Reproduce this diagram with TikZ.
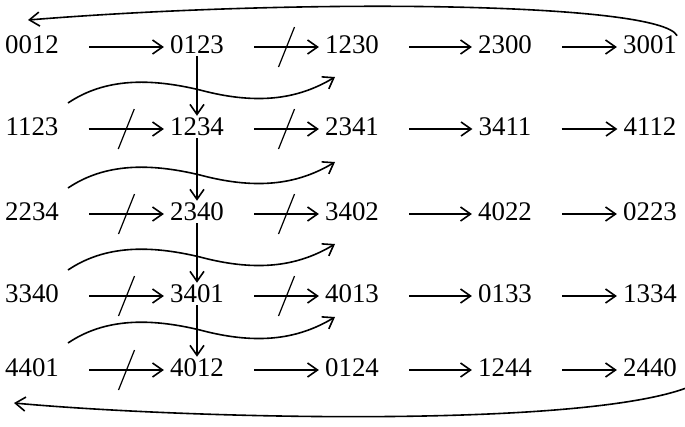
\documentclass[tikz,border=0pt]{standalone}
\usepackage{fontspec}
\setmainfont{Liberation Serif}
\usetikzlibrary{arrows.meta}
\begin{document}
\begin{tikzpicture}[x=1bp,y=-1bp,
  lab/.style={font=\fontsize{27}{27}\selectfont, inner sep=0pt},
  arr/.style={line width=1.6bp, -{Straight Barb[length=10bp,width=14bp]}},
  sl/.style={line width=1.2bp}]
\useasboundingbox (0,0) rectangle (685,426);
\foreach \r/\y/\a/\b/\c/\d/\e in {1/45/0012/0123/1230/2300/3001,2/127/1123/1234/2341/3411/4112,3/212/2234/2340/3402/4022/0223,4/294/3340/3401/4013/0133/1334,5/368/4401/4012/0124/1244/2440}{
  \node[lab] (n\r1) at (32,\y) {\a};
  \node[lab] (n\r2) at (197,\y) {\b};
  \node[lab] (n\r3) at (352,\y) {\c};
  \node[lab] (n\r4) at (505,\y) {\d};
  \node[lab] (n\r5) at (650,\y) {\e};
  \foreach \i/\j in {1/2,2/3,3/4,4/5}{
    \draw[arr] ([xshift=30bp,yshift=-2bp]n\r\i.east) coordinate (s\r\i) -- ([xshift=-6bp,yshift=-2bp]n\r\j.west) coordinate (t\r\i);
  }
}
% slashes
\foreach \r/\i in {1/2,2/1,2/2,3/1,3/2,4/1,4/2,5/1}{
  \path (s\r\i) -- (t\r\i) coordinate[pos=0.5] (m\r\i);
  \draw[sl] ([xshift=-8bp,yshift=-20bp]m\r\i) -- ([xshift=8bp,yshift=20bp]m\r\i);
}
% vertical arrows
\foreach \r/\s in {1/2,2/3,3/4,4/5}{
  \draw[arr] ([yshift=-2bp]n\r2.south) -- ([yshift=2bp]n\s2.north);
}
% wavy arrows
\foreach \y in {0,85,167,240}{
  \draw[arr] (68,103+\y) .. controls (105,78+\y) and (150,78+\y) .. (200,90+\y)
     .. controls (260,106+\y) and (300,98+\y) .. (335,77+\y);
}
% top and bottom arcs
\coordinate (tl) at (28,20);
\coordinate (bl) at (14,403);
\draw[arr] (n15.north east) .. controls (660,2) and (300,-2) .. (tl);
\draw[arr] ([xshift=30bp]n55.south east) .. controls (640,430) and (200,420) .. (bl);
\end{tikzpicture}
\end{document}
